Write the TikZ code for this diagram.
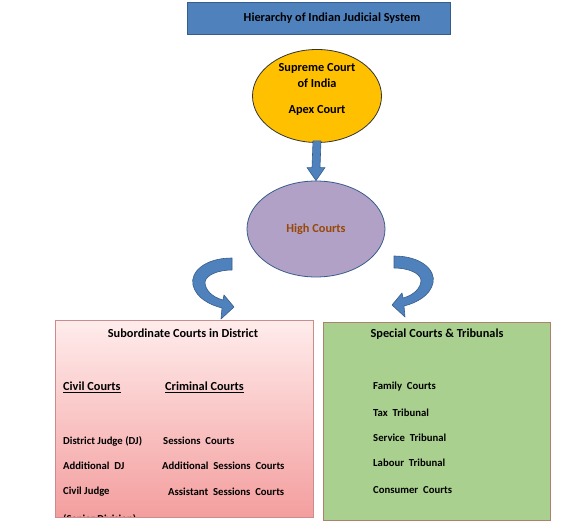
\documentclass[tikz,border=0pt]{standalone}
\usepackage{fontspec}
\setmainfont{Carlito}
\usetikzlibrary{shapes.geometric, positioning, calc}
\definecolor{titleblue}{RGB}{79,129,189}
\definecolor{edgeblue}{RGB}{56,93,138}
\definecolor{apexgold}{RGB}{255,192,0}
\definecolor{hclilac}{RGB}{178,161,199}
\definecolor{hcbrown}{RGB}{152,72,6}
\definecolor{subtop}{RGB}{255,236,236}
\definecolor{subbot}{RGB}{244,158,158}
\definecolor{subedge}{RGB}{205,140,140}
\definecolor{specgreen}{RGB}{169,208,142}
\definecolor{specedge}{RGB}{176,128,108}

\begin{document}
\begin{tikzpicture}[x=1pt, y=-1pt,
  hdr/.style={font=\fontsize{12.3}{14}\selectfont\bfseries, inner sep=0pt},
  item/.style={font=\fontsize{10.7}{12}\selectfont\bfseries, inner sep=0pt, anchor=west},
  court/.style={ellipse, draw, line width=0.8pt, inner sep=0pt},
  blockarrow/.style={fill=titleblue, draw=edgeblue, line width=0.6pt, line join=round}
]
  \useasboundingbox (0,0) rectangle (569,526);

  % title
  \node[draw=edgeblue, line width=1pt, fill=titleblue, minimum width=263pt, minimum height=32pt]
    (title) at (318.5,19) {};
  \node[hdr] (titletext) at (332,18) {Hierarchy of Indian Judicial System};

  % courts
  \node[court, fill=apexgold, draw=black!80, minimum width=129pt, minimum height=93pt] (sc) at (317,96) {};
  \node[hdr, align=center] (sctext) at (317,89) {Supreme Court\\[2pt]of India\\[12pt]Apex Court};

  \node[court, fill=hclilac, draw=edgeblue, minimum width=138pt, minimum height=96pt, hdr, text=hcbrown]
    (hc) at (316,229) {High Courts};

  % down arrow
  \draw[blockarrow] ($(sc.south)+(-4,-2)$) -- ($(hc.north)+(-4,-13)$) -- ($(hc.north)+(-9,-13)$)
    -- (hc.north) -- ($(hc.north)+(9,-13)$) -- ($(hc.north)+(4,-13)$) -- ($(sc.south)+(4,-2)$) -- cycle;

  % curved arrows
  \draw[blockarrow] (232,258) .. controls (205,258) and (190,272) .. (193,285)
    .. controls (196,298) and (210,305) .. (222,308) -- (221,319) -- (234,307) -- (224,295) -- (223,300)
    .. controls (212,297) and (205,290) .. (205,282) .. controls (206,275) and (218,270) .. (232,270) -- cycle;
  \begin{scope}[xshift=626pt, xscale=-1, yshift=2pt]
    \draw[blockarrow] (232,258) .. controls (205,258) and (190,272) .. (193,285)
      .. controls (196,298) and (210,305) .. (222,308) -- (221,319) -- (234,307) -- (224,295) -- (223,300)
      .. controls (212,297) and (205,290) .. (205,282) .. controls (206,275) and (218,270) .. (232,270) -- cycle;
  \end{scope}

  % subordinate courts
  \draw[draw=subedge, top color=subtop, bottom color=subbot] (55,320) rectangle (313,517);
  \node[hdr] (subtitle) at (183,333) {Subordinate Courts in District};
  \node[hdr, anchor=west] (civil) at (63,387) {\underline{Civil Courts}};
  \node[hdr, anchor=west] (criminal) at (165,387) {\underline{Criminal Courts}};
  \begin{scope}
    \clip (55,320) rectangle (313,516);
    \node[item] (dj) at (63,441) {District Judge (DJ)};
    \node[item] (adj) at (63,466) {Additional~ DJ};
    \node[item] (cj) at (63,492) {Civil Judge};
    \node[item] (sd) at (63,519) {(Senior Division)};
    \node[item] (ses) at (163,441) {Sessions~ Courts};
    \node[item] (ases) at (162,466) {Additional~ Sessions~ Courts};
    \node[item] (asst) at (168,492) {Assistant~ Sessions~ Courts};
  \end{scope}

  % special courts
  \draw[draw=specedge, fill=specgreen] (323,322) rectangle (550,520);
  \node[hdr] (spectitle) at (437,334) {Special Courts \& Tribunals};
  \node[item] (fam) at (373,387) {Family~ Courts};
  \node[item] (tax) at (373,413) {Tax~ Tribunal};
  \node[item] (serv) at (373,438) {Service~ Tribunal};
  \node[item] (lab) at (373,463) {Labour~ Tribunal};
  \node[item] (cons) at (373,490) {Consumer~ Courts};
\end{tikzpicture}
\end{document}
